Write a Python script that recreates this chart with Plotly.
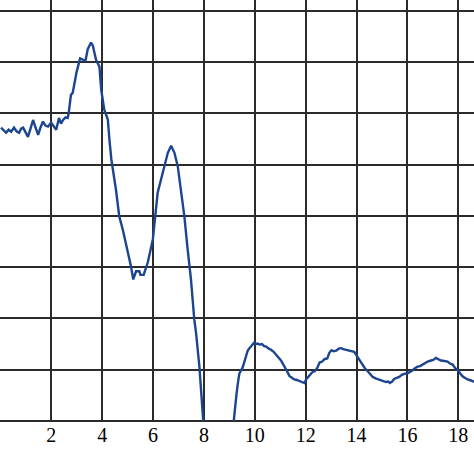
import plotly.graph_objects as go

x_head = [0.02, 0.12, 0.22, 0.32, 0.42, 0.53, 0.63, 0.73, 0.81, 0.89, 0.98, 1.08, 1.18, 1.28, 1.38, 1.48, 1.57, 1.67, 1.77, 1.87, 1.99, 2.09, 2.19, 2.30, 2.38, 2.46, 2.56, 2.64,
          2.68, 2.77, 2.84, 2.99, 3.05, 3.13, 3.23, 3.34, 3.43, 3.56, 3.63, 3.76, 3.89, 3.96, 4.08, 4.22, 4.29, 4.36, 4.54, 4.67, 4.81, 5.00, 5.13, 5.22, 5.33, 5.46, 5.50, 5.63, 5.79, 5.99,
          6.08, 6.18, 6.38, 6.58, 6.71, 6.84, 6.97, 7.10, 7.23, 7.36, 7.49, 7.62, 7.69, 7.82, 7.91, 8.00, 8.08, 8.60, 9.10]
y_head = [5.72, 5.66, 5.62, 5.68, 5.64, 5.72, 5.65, 5.62, 5.70, 5.72, 5.63, 5.54, 5.70, 5.87, 5.72, 5.58, 5.72, 5.84, 5.76, 5.74, 5.82, 5.75, 5.68, 5.91, 5.80, 5.87, 5.92, 5.91,
          6.00, 6.36, 6.40, 6.80, 6.91, 7.07, 7.05, 7.02, 7.25, 7.38, 7.32, 7.04, 6.91, 6.46, 6.07, 5.88, 5.45, 5.10, 4.51, 3.99, 3.73, 3.34, 3.02, 2.76, 2.92, 2.92, 2.85, 2.85, 3.09, 3.54,
          3.99, 4.45, 4.84, 5.23, 5.37, 5.23, 4.97, 4.45, 3.99, 3.34, 2.76, 1.98, 1.72, 1.07, 0.55, -0.01, -0.75, -1.6, -0.75]

x_tail = [9.17, 9.23, 9.28, 9.33, 9.39, 9.45, 9.52, 9.58, 9.65, 9.72, 9.79, 9.85, 9.92, 9.98, 10.04, 10.11, 10.18, 10.28, 10.37, 10.45,
          10.55, 10.64, 10.74, 10.83, 10.93, 11.03, 11.10, 11.18, 11.26, 11.36, 11.45, 11.55, 11.65, 11.74, 11.82, 11.90, 11.95, 12.03, 12.10, 12.20,
          12.28, 12.36, 12.45, 12.55, 12.65, 12.75, 12.85, 12.93, 13.02, 13.10, 13.20, 13.30, 13.39, 13.48, 13.59, 13.70, 13.80, 13.91, 14.00, 14.08,
          14.17, 14.24, 14.34, 14.44, 14.53, 14.63, 14.75, 14.85, 14.95, 15.06, 15.16, 15.25, 15.31, 15.40, 15.48, 15.58, 15.68, 15.78, 15.88, 16.01,
          16.12, 16.21, 16.30, 16.40, 16.50, 16.60, 16.70, 16.80, 16.93, 17.02, 17.12, 17.22, 17.32, 17.45, 17.58, 17.68, 17.78, 17.88, 17.97, 18.07,
          18.17, 18.27, 18.37, 18.50, 18.63]
y_tail = [-0.01, 0.36, 0.52, 0.72, 0.92, 0.98, 1.04, 1.14, 1.26, 1.37, 1.42, 1.46, 1.50, 1.53, 1.50, 1.51, 1.49, 1.50, 1.46, 1.45,
          1.41, 1.39, 1.35, 1.30, 1.25, 1.18, 1.12, 1.06, 0.98, 0.88, 0.84, 0.81, 0.80, 0.78, 0.77, 0.75, 0.74, 0.82, 0.86, 0.93,
          0.96, 0.97, 1.03, 1.14, 1.16, 1.21, 1.22, 1.33, 1.38, 1.36, 1.37, 1.41, 1.42, 1.40, 1.39, 1.38, 1.37, 1.35, 1.28, 1.22,
          1.14, 1.10, 1.02, 0.97, 0.92, 0.86, 0.83, 0.81, 0.79, 0.78, 0.76, 0.77, 0.74, 0.77, 0.82, 0.84, 0.86, 0.90, 0.92, 0.93,
          0.96, 0.99, 1.03, 1.06, 1.07, 1.10, 1.14, 1.16, 1.18, 1.19, 1.23, 1.20, 1.18, 1.17, 1.16, 1.12, 1.10, 1.03, 1.00, 0.93,
          0.87, 0.84, 0.81, 0.79, 0.76]

x_vals = x_head + x_tail
y_vals = y_head + y_tail

x_ticks = [0, 2, 4, 6, 8, 10, 12, 14, 16, 18]

fig = go.Figure()
fig.add_trace(go.Scatter(x=x_vals, y=y_vals, mode="lines",
                         line=dict(color="#1c4590", width=2.4), showlegend=False))

fig.update_layout(
    width=474, height=474,
    margin=dict(l=0, r=0, t=0, b=53),
    paper_bgcolor="white", plot_bgcolor="white",
    font=dict(family="Liberation Serif", size=20, color="black"),
    xaxis=dict(range=[-0.02, 18.62], tickvals=x_ticks, ticktext=[str(t) for t in x_ticks],
               showgrid=True, gridcolor="#2b2b2b", gridwidth=1.6, zeroline=False,
               showline=False, ticks="", fixedrange=True, automargin=False),
    yaxis=dict(range=[0, 8.21], dtick=1, tick0=0, showgrid=True, gridcolor="#2b2b2b",
               gridwidth=1.6, zeroline=True, zerolinecolor="#2b2b2b", zerolinewidth=1.6,
               showticklabels=False, ticks="", showline=False, automargin=False,
               fixedrange=True),
)

fig.write_html("out.html", config={"displayModeBar": False},
               post_script="document.body.style.margin='0';")
